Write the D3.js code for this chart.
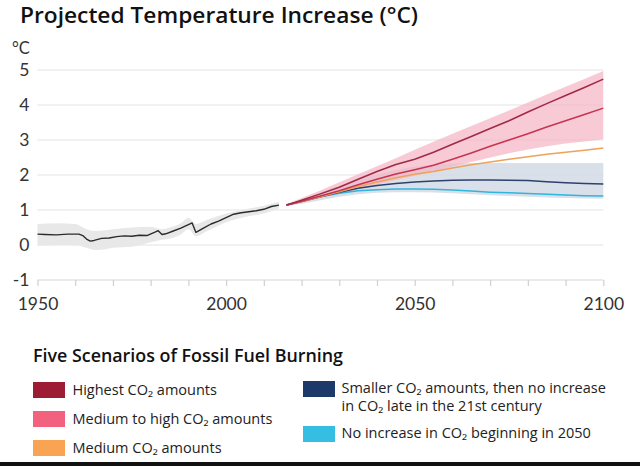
<!DOCTYPE html>
<html>
<head>
<meta charset="utf-8">
<script src="https://cdn.jsdelivr.net/npm/d3@7"></script>
<style>
  html, body { margin: 0; padding: 0; background: #fff; }
  svg { display: block; }
</style>
</head>
<body>
<svg id="chart" width="640" height="466"></svg>
<script>
// ---------- DATA ----------
const yTicks = [-1, 0, 1, 2, 3, 4, 5];
const xTicks = [1950, 1960, 1970, 1980, 1990, 2000, 2010, 2020, 2030, 2040, 2050, 2060, 2070, 2080, 2090, 2100];
const xLabels = [1950, 2000, 2050, 2100];

const histYears  = [1950,1952,1955,1958,1961,1962,1963,1964,1965,1967,1969,1971,1973,1975,1977,1979,1981,1982,1983,1984,1986,1988,1990,1991,1992,1994,1996,1998,2000,2002,2004,2006,2008,2010,2012,2014];
const histValues = [0.31,0.30,0.29,0.31,0.31,0.27,0.17,0.11,0.13,0.19,0.20,0.24,0.26,0.25,0.28,0.27,0.36,0.41,0.30,0.32,0.40,0.48,0.58,0.63,0.36,0.48,0.60,0.68,0.78,0.88,0.92,0.95,0.98,1.02,1.10,1.14];

const histBandYears = [1950,1955,1960,1963,1965,1968,1970,1975,1980,1983,1985,1988,1990,1992,1995,2000,2005,2010,2014];
const histBandUpper = [0.60,0.62,0.60,0.45,0.40,0.42,0.45,0.50,0.52,0.45,0.50,0.62,0.78,0.60,0.72,0.90,1.02,1.12,1.24];
const histBandLower = [-0.02,0.00,0.00,-0.08,-0.14,-0.12,-0.08,-0.05,0.08,0.15,0.18,0.30,0.45,0.25,0.40,0.65,0.80,0.90,1.04];

const projYears   = [2016,2020,2025,2030,2035,2040,2045,2050,2055,2060,2065,2070,2075,2080,2085,2090,2095,2100];
const highest     = [1.14,1.28,1.46,1.65,1.88,2.10,2.30,2.45,2.65,2.88,3.10,3.33,3.55,3.80,4.04,4.27,4.50,4.74];
const mediumHigh  = [1.14,1.25,1.40,1.55,1.72,1.88,2.03,2.15,2.28,2.45,2.63,2.82,3.00,3.18,3.37,3.55,3.73,3.91];
const medium      = [1.14,1.24,1.38,1.52,1.67,1.80,1.92,2.02,2.10,2.20,2.29,2.37,2.45,2.52,2.59,2.65,2.71,2.77];
const smaller     = [1.14,1.24,1.38,1.51,1.62,1.70,1.76,1.80,1.83,1.85,1.86,1.86,1.85,1.84,1.81,1.78,1.76,1.74];
const noIncrease  = [1.14,1.25,1.38,1.48,1.55,1.58,1.60,1.60,1.59,1.57,1.54,1.51,1.49,1.47,1.45,1.43,1.41,1.40];

const pinkUpper   = [1.17,1.34,1.56,1.79,2.02,2.25,2.48,2.72,2.95,3.18,3.40,3.62,3.84,4.07,4.30,4.52,4.74,4.97];
const pinkLower   = [1.11,1.21,1.34,1.47,1.60,1.73,1.86,1.98,2.10,2.24,2.37,2.50,2.62,2.73,2.82,2.90,2.96,3.02];
const grayUpper   = [1.15,1.30,1.50,1.70,1.87,2.02,2.14,2.24,2.30,2.33,2.34,2.34,2.34,2.34,2.34,2.34,2.34,2.34];
const grayLower   = [1.12,1.18,1.28,1.38,1.45,1.49,1.51,1.51,1.50,1.48,1.45,1.42,1.40,1.38,1.36,1.34,1.33,1.32];

const legendLeft  = ["Highest CO₂ amounts", "Medium to high CO₂ amounts", "Medium CO₂ amounts"];
const legendRight = [["Smaller CO₂ amounts, then no increase", "in CO₂ late in the 21st century"], ["No increase in CO₂ beginning in 2050"]];
const colorsLeft  = ["#9d1c33", "#f2627f", "#f8a452"];
const colorsRight = ["#1b3a6a", "#35bee2"];

// ---------- CHART ----------
const svg = d3.select("#chart");
const x = d3.scaleLinear().domain([1950, 2100]).range([37.5, 603.3]);
const y = d3.scaleLinear().domain([-1, 5]).range([280, 70]);

// Title
svg.append("text")
  .attr("x", 20).attr("y", 23)
  .attr("font-family", "'Open Sans', sans-serif")
  .attr("font-weight", 600)
  .attr("font-size", 21.5)
  .attr("textLength", 398).attr("lengthAdjust", "spacingAndGlyphs")
  .attr("fill", "#111")
  .text("Projected Temperature Increase (°C)");

// Unit label
svg.append("text")
  .attr("x", 12).attr("y", 54)
  .attr("font-family", "Lato, sans-serif")
  .attr("font-size", 16.5)
  .attr("fill", "#333")
  .text("°C");

// Gridlines
svg.append("g").selectAll("line").data(yTicks).join("line")
  .attr("x1", x(1950)).attr("x2", x(2100))
  .attr("y1", d => y(d)).attr("y2", d => y(d))
  .attr("stroke", d => d === -1 ? "#d6d6d6" : "#e4e4e4")
  .attr("stroke-width", 1.2);

// Y axis labels
const yAxis = d3.axisLeft(y).tickValues(yTicks).tickSize(0).tickPadding(8).tickFormat(d => String(d));
const gy = svg.append("g").attr("transform", `translate(${x(1950)},0)`).call(yAxis);
gy.select(".domain").remove();
gy.selectAll("text").attr("font-family", "Lato, sans-serif").attr("font-size", 17.5).attr("fill", "#333");

// X axis
const xAxis = d3.axisBottom(x).tickValues(xTicks).tickSize(6).tickPadding(12)
  .tickFormat(d => xLabels.includes(d) ? String(d) : "");
const gx = svg.append("g").attr("transform", `translate(0,${y(-1)})`).call(xAxis);
gx.select(".domain").remove();
gx.selectAll("line").attr("stroke", "#d0d0d0").attr("stroke-width", 1.2);
gx.selectAll("text").attr("font-family", "Lato, sans-serif").attr("font-size", 17.5).attr("fill", "#333");

// Historical band
const histBand = histBandYears.map((yr, i) => ({yr, hi: histBandUpper[i], lo: histBandLower[i]}));
svg.append("path").datum(histBand)
  .attr("fill", "#e8e8e8")
  .attr("d", d3.area().x(d => x(d.yr)).y0(d => y(d.lo)).y1(d => y(d.hi)).curve(d3.curveMonotoneX));

// Projection bands
const band = (up, lo) => projYears.map((yr, i) => ({yr, hi: up[i], lo: lo[i]}));
const areaGen = d3.area().x(d => x(d.yr)).y0(d => y(d.lo)).y1(d => y(d.hi));
svg.append("path").datum(band(grayUpper, grayLower))
  .attr("fill", "#d3dae5").attr("opacity", 0.85).attr("d", areaGen);
svg.append("path").datum(band(pinkUpper, pinkLower))
  .attr("fill", "#f5b4c3").attr("opacity", 0.7).attr("d", areaGen);

// Historical line
const lineGen = d3.line().x(d => x(d[0])).y(d => y(d[1]));
svg.append("path").datum(histYears.map((yr, i) => [yr, histValues[i]]))
  .attr("fill", "none").attr("stroke", "#2b2b2b").attr("stroke-width", 1.4)
  .attr("stroke-linejoin", "round").attr("d", lineGen);

// Projection lines
const series = [
  {vals: noIncrease, color: "#2fb6dc"},
  {vals: smaller,    color: "#2c416c"},
  {vals: medium,     color: "#eea25a"},
  {vals: mediumHigh, color: "#c8344f"},
  {vals: highest,    color: "#a02a45"}
];
svg.append("g").selectAll("path").data(series).join("path")
  .attr("fill", "none").attr("stroke", d => d.color).attr("stroke-width", 1.5)
  .attr("stroke-linejoin", "round")
  .attr("d", d => lineGen(projYears.map((yr, i) => [yr, d.vals[i]])));

// ---------- LEGEND ----------
svg.append("text")
  .attr("x", 33).attr("y", 362)
  .attr("font-family", "'Open Sans', sans-serif")
  .attr("font-weight", 600)
  .attr("font-size", 18)
  .attr("textLength", 310).attr("lengthAdjust", "spacingAndGlyphs")
  .attr("fill", "#111")
  .text("Five Scenarios of Fossil Fuel Burning");

const leftRowsY = [382, 411, 440];
const gl = svg.append("g");
legendLeft.forEach((t, i) => {
  gl.append("rect").attr("x", 33).attr("y", leftRowsY[i]).attr("width", 32).attr("height", 16).attr("fill", colorsLeft[i]);
  gl.append("text").attr("x", 72.5).attr("y", leftRowsY[i] + 12.5)
    .attr("font-family", "'Open Sans', sans-serif").attr("font-size", 14.5).attr("fill", "#222").text(t);
});
const rightRowsY = [381, 426];
legendRight.forEach((lines, i) => {
  gl.append("rect").attr("x", 303).attr("y", rightRowsY[i]).attr("width", 32).attr("height", 16).attr("fill", colorsRight[i]);
  lines.forEach((t, j) => {
    gl.append("text").attr("x", 341.5).attr("y", rightRowsY[i] + 12 + j * 18)
      .attr("font-family", "'Open Sans', sans-serif").attr("font-size", 14.5).attr("fill", "#222").text(t);
  });
});

// bottom dark strip
svg.append("rect").attr("x", 0).attr("y", 462).attr("width", 640).attr("height", 4).attr("fill", "#111");
</script>
</body>
</html>
